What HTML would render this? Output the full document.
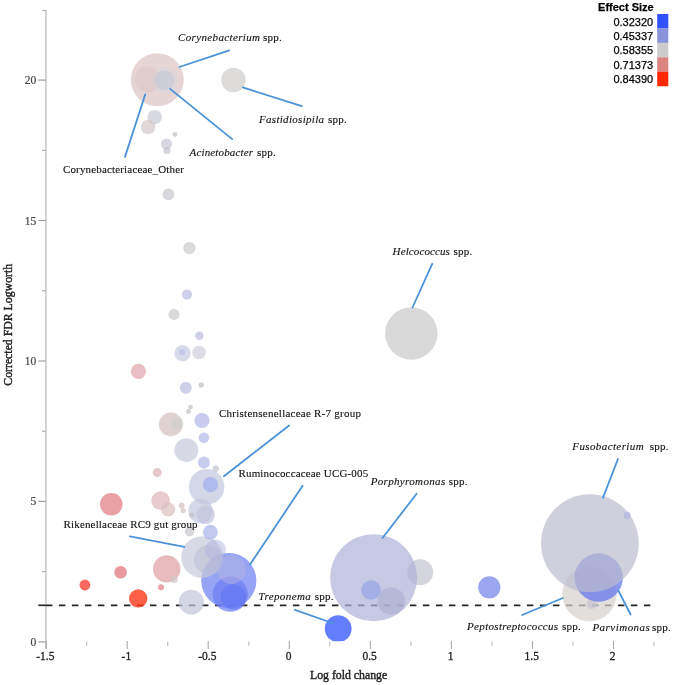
<!DOCTYPE html>
<html><head><meta charset="utf-8"><title>Volcano plot</title>
<style>
html,body{margin:0;padding:0;background:#fff;}
body{width:673px;height:685px;overflow:hidden;}
svg{display:block;filter:blur(0.4px);}
.lab text{font-family:"Liberation Serif",serif;font-size:11px;fill:#111;stroke:#111;stroke-width:0.12px;}
.tk{font-family:"Liberation Serif",serif;font-size:11.5px;fill:#222;stroke:#222;stroke-width:0.3px;}
.tky{fill:#444;stroke:#444;stroke-width:0.2px;}
.at{font-family:"Liberation Serif",serif;font-size:11.8px;fill:#222;stroke:#222;stroke-width:0.4px;}
.lt{font-family:"Liberation Sans",sans-serif;font-size:11px;font-weight:bold;fill:#000;stroke:#000;stroke-width:0.25px;}
.lv{font-family:"Liberation Sans",sans-serif;font-size:11px;fill:#000;stroke:#000;stroke-width:0.25px;}
</style></head>
<body>
<svg width="673" height="685" viewBox="0 0 673 685">
<defs><clipPath id="plot"><rect x="46" y="0" width="627" height="641.3"/></clipPath></defs>
<g id="axes">
<line x1="45.9" y1="10.5" x2="45.9" y2="648.9" stroke="#c8c8c8" stroke-width="1.6"/>
<line x1="42.2" y1="10.5" x2="46.5" y2="10.5" stroke="#b0b0b0" stroke-width="1.2"/>
<line x1="38.2" y1="641.9" x2="45.9" y2="641.9" stroke="#a0a0a0" stroke-width="1.2"/>
<text class="tk tky" x="36.3" y="645.9" text-anchor="end">0</text>
<line x1="38.2" y1="501.4" x2="45.9" y2="501.4" stroke="#a0a0a0" stroke-width="1.2"/>
<text class="tk tky" x="36.3" y="505.4" text-anchor="end">5</text>
<line x1="38.2" y1="361.0" x2="45.9" y2="361.0" stroke="#a0a0a0" stroke-width="1.2"/>
<text class="tk tky" x="36.3" y="365.0" text-anchor="end">10</text>
<line x1="38.2" y1="220.5" x2="45.9" y2="220.5" stroke="#a0a0a0" stroke-width="1.2"/>
<text class="tk tky" x="36.3" y="224.5" text-anchor="end">15</text>
<line x1="38.2" y1="80.1" x2="45.9" y2="80.1" stroke="#a0a0a0" stroke-width="1.2"/>
<text class="tk tky" x="36.3" y="84.1" text-anchor="end">20</text>
<line x1="42.0" y1="571.7" x2="45.9" y2="571.7" stroke="#a8a8a8" stroke-width="1.1"/>
<line x1="42.0" y1="431.2" x2="45.9" y2="431.2" stroke="#a8a8a8" stroke-width="1.1"/>
<line x1="42.0" y1="290.8" x2="45.9" y2="290.8" stroke="#a8a8a8" stroke-width="1.1"/>
<line x1="42.0" y1="150.3" x2="45.9" y2="150.3" stroke="#a8a8a8" stroke-width="1.1"/>
<line x1="46.2" y1="641" x2="46.2" y2="649" stroke="#a8a8a8" stroke-width="1.1"/>
<text class="tk" x="45.4" y="660.4" text-anchor="middle">-1.5</text>
<line x1="127.2" y1="641" x2="127.2" y2="649" stroke="#a8a8a8" stroke-width="1.1"/>
<text class="tk" x="126.4" y="660.4" text-anchor="middle">-1</text>
<line x1="208.2" y1="641" x2="208.2" y2="649" stroke="#a8a8a8" stroke-width="1.1"/>
<text class="tk" x="207.4" y="660.4" text-anchor="middle">-0.5</text>
<line x1="289.3" y1="641" x2="289.3" y2="649" stroke="#a8a8a8" stroke-width="1.1"/>
<text class="tk" x="288.5" y="660.4" text-anchor="middle">0</text>
<line x1="370.4" y1="641" x2="370.4" y2="649" stroke="#a8a8a8" stroke-width="1.1"/>
<text class="tk" x="369.6" y="660.4" text-anchor="middle">0.5</text>
<line x1="451.4" y1="641" x2="451.4" y2="649" stroke="#a8a8a8" stroke-width="1.1"/>
<text class="tk" x="450.6" y="660.4" text-anchor="middle">1</text>
<line x1="532.5" y1="641" x2="532.5" y2="649" stroke="#a8a8a8" stroke-width="1.1"/>
<text class="tk" x="531.7" y="660.4" text-anchor="middle">1.5</text>
<line x1="613.5" y1="641" x2="613.5" y2="649" stroke="#a8a8a8" stroke-width="1.1"/>
<text class="tk" x="612.7" y="660.4" text-anchor="middle">2</text>
<line x1="86.7" y1="641.4" x2="86.7" y2="645.8" stroke="#b8b8b8" stroke-width="1.1"/>
<line x1="167.7" y1="641.4" x2="167.7" y2="645.8" stroke="#b8b8b8" stroke-width="1.1"/>
<line x1="248.8" y1="641.4" x2="248.8" y2="645.8" stroke="#b8b8b8" stroke-width="1.1"/>
<line x1="329.8" y1="641.4" x2="329.8" y2="645.8" stroke="#b8b8b8" stroke-width="1.1"/>
<line x1="410.9" y1="641.4" x2="410.9" y2="645.8" stroke="#b8b8b8" stroke-width="1.1"/>
<line x1="491.9" y1="641.4" x2="491.9" y2="645.8" stroke="#b8b8b8" stroke-width="1.1"/>
<line x1="573.0" y1="641.4" x2="573.0" y2="645.8" stroke="#b8b8b8" stroke-width="1.1"/>
<line x1="654.0" y1="641.4" x2="654.0" y2="645.8" stroke="#b8b8b8" stroke-width="1.1"/>
</g>
<line x1="38.3" y1="605.3" x2="45.9" y2="605.3" stroke="#262626" stroke-width="1.65"/>
<line x1="45.9" y1="605.3" x2="650.3" y2="605.3" stroke="#262626" stroke-width="1.65" stroke-dasharray="6.5 6.5"/>
<g clip-path="url(#plot)">
<circle cx="589.5" cy="594.0" r="27.2" fill="rgb(214,208,205)" fill-opacity="0.7"/>
<circle cx="591.8" cy="604.0" r="5.0" fill="rgb(196,195,206)" fill-opacity="0.7"/>
<circle cx="598.7" cy="577.5" r="24.2" fill="rgb(91,112,234)" fill-opacity="0.7"/>
<circle cx="589.9" cy="543.2" r="48.9" fill="rgb(188,188,206)" fill-opacity="0.7"/>
<circle cx="627.2" cy="515.3" r="3.6" fill="rgb(175,179,227)" fill-opacity="0.7"/>
<circle cx="420.2" cy="572.3" r="13.0" fill="rgb(194,194,205)" fill-opacity="0.7"/>
<circle cx="373.6" cy="577.7" r="43.5" fill="rgb(174,176,216)" fill-opacity="0.7"/>
<circle cx="371.0" cy="590.0" r="9.8" fill="rgb(151,164,231)" fill-opacity="0.7"/>
<circle cx="391.3" cy="601.1" r="13.7" fill="rgb(175,177,211)" fill-opacity="0.7"/>
<circle cx="338.2" cy="628.7" r="13.4" fill="rgb(48,82,255)" fill-opacity="0.75"/>
<circle cx="489.3" cy="587.3" r="11.1" fill="rgb(111,129,234)" fill-opacity="0.7"/>
<circle cx="411.3" cy="333.5" r="26.2" fill="rgb(201,201,201)" fill-opacity="0.7"/>
<circle cx="228.8" cy="580.5" r="27.6" fill="rgb(105,126,241)" fill-opacity="0.7"/>
<circle cx="230.3" cy="594.2" r="17.6" fill="rgb(107,125,242)" fill-opacity="0.7"/>
<circle cx="233.3" cy="597.0" r="12.8" fill="rgb(100,118,242)" fill-opacity="0.7"/>
<circle cx="202.0" cy="557.0" r="20.8" fill="rgb(198,201,216)" fill-opacity="0.7"/>
<circle cx="208.4" cy="559.8" r="14.5" fill="rgb(185,187,216)" fill-opacity="0.5"/>
<circle cx="215.4" cy="550.0" r="10.5" fill="rgb(175,179,222)" fill-opacity="0.5"/>
<circle cx="231.5" cy="569.4" r="14.5" fill="rgb(180,179,225)" fill-opacity="0.5"/>
<circle cx="203.9" cy="462.4" r="6.0" fill="rgb(176,184,234)" fill-opacity="0.7"/>
<circle cx="215.8" cy="468.7" r="3.1" fill="rgb(194,194,202)" fill-opacity="0.7"/>
<circle cx="206.6" cy="486.8" r="17.8" fill="rgb(194,198,222)" fill-opacity="0.7"/>
<circle cx="210.4" cy="484.7" r="7.6" fill="rgb(159,172,236)" fill-opacity="0.7"/>
<circle cx="200.6" cy="511.0" r="12.3" fill="rgb(194,198,219)" fill-opacity="0.7"/>
<circle cx="205.7" cy="514.8" r="9.3" fill="rgb(195,196,224)" fill-opacity="0.7"/>
<circle cx="191.8" cy="515.0" r="2.6" fill="rgb(191,191,198)" fill-opacity="0.7"/>
<circle cx="210.4" cy="532.2" r="7.4" fill="rgb(169,179,234)" fill-opacity="0.7"/>
<circle cx="189.6" cy="531.6" r="4.8" fill="rgb(198,198,205)" fill-opacity="0.7"/>
<circle cx="170.8" cy="424.4" r="11.9" fill="rgb(212,191,191)" fill-opacity="0.7"/>
<circle cx="176.8" cy="423.8" r="6.4" fill="rgb(206,207,207)" fill-opacity="0.7"/>
<circle cx="202.0" cy="420.5" r="7.6" fill="rgb(176,184,234)" fill-opacity="0.7"/>
<circle cx="203.9" cy="437.8" r="5.2" fill="rgb(176,184,234)" fill-opacity="0.7"/>
<circle cx="186.3" cy="450.2" r="11.9" fill="rgb(198,202,216)" fill-opacity="0.7"/>
<circle cx="190.5" cy="407.1" r="2.3" fill="rgb(191,191,191)" fill-opacity="0.7"/>
<circle cx="188.5" cy="411.5" r="2.4" fill="rgb(191,191,191)" fill-opacity="0.7"/>
<circle cx="157.3" cy="472.6" r="4.5" fill="rgb(216,176,181)" fill-opacity="0.7"/>
<circle cx="185.8" cy="387.8" r="6.0" fill="rgb(184,188,226)" fill-opacity="0.7"/>
<circle cx="201.2" cy="385.0" r="2.7" fill="rgb(191,191,191)" fill-opacity="0.7"/>
<circle cx="138.4" cy="371.4" r="7.6" fill="rgb(224,162,168)" fill-opacity="0.7"/>
<circle cx="182.5" cy="353.2" r="8.2" fill="rgb(198,202,226)" fill-opacity="0.7"/>
<circle cx="182.1" cy="352.1" r="3.2" fill="rgb(186,192,235)" fill-opacity="0.7"/>
<circle cx="199.0" cy="352.5" r="6.8" fill="rgb(205,205,216)" fill-opacity="0.7"/>
<circle cx="199.4" cy="335.8" r="4.2" fill="rgb(184,188,222)" fill-opacity="0.7"/>
<circle cx="174.0" cy="314.4" r="5.6" fill="rgb(202,202,202)" fill-opacity="0.7"/>
<circle cx="187.0" cy="294.6" r="5.1" fill="rgb(184,188,222)" fill-opacity="0.7"/>
<circle cx="189.4" cy="248.1" r="6.2" fill="rgb(202,202,202)" fill-opacity="0.7"/>
<circle cx="168.4" cy="194.3" r="5.9" fill="rgb(198,198,208)" fill-opacity="0.7"/>
<circle cx="166.5" cy="144.0" r="5.6" fill="rgb(198,198,212)" fill-opacity="0.7"/>
<circle cx="166.9" cy="150.5" r="3.6" fill="rgb(194,194,208)" fill-opacity="0.7"/>
<circle cx="174.9" cy="134.5" r="2.4" fill="rgb(194,194,194)" fill-opacity="0.7"/>
<circle cx="154.7" cy="117.2" r="7.3" fill="rgb(201,201,214)" fill-opacity="0.7"/>
<circle cx="148.1" cy="127.0" r="7.3" fill="rgb(211,199,199)" fill-opacity="0.7"/>
<circle cx="157.3" cy="79.7" r="26.5" fill="rgb(219,195,195)" fill-opacity="0.7"/>
<circle cx="147.7" cy="79.4" r="12.8" fill="rgb(219,199,199)" fill-opacity="0.7"/>
<circle cx="164.5" cy="80.5" r="13.0" fill="rgb(210,216,220)" fill-opacity="0.4"/>
<circle cx="164.5" cy="80.3" r="10.0" fill="rgb(199,203,217)" fill-opacity="0.7"/>
<circle cx="233.4" cy="80.0" r="12.2" fill="rgb(208,205,202)" fill-opacity="0.7"/>
<circle cx="111.3" cy="504.2" r="11.3" fill="rgb(222,122,129)" fill-opacity="0.7"/>
<circle cx="160.6" cy="500.6" r="9.3" fill="rgb(222,181,185)" fill-opacity="0.7"/>
<circle cx="168.2" cy="509.4" r="7.1" fill="rgb(218,192,190)" fill-opacity="0.7"/>
<circle cx="181.7" cy="505.6" r="3.0" fill="rgb(212,191,191)" fill-opacity="0.7"/>
<circle cx="183.2" cy="510.6" r="2.6" fill="rgb(212,191,191)" fill-opacity="0.7"/>
<circle cx="166.7" cy="568.9" r="13.7" fill="rgb(222,158,164)" fill-opacity="0.7"/>
<circle cx="174.3" cy="579.6" r="3.5" fill="rgb(208,198,197)" fill-opacity="0.7"/>
<circle cx="161.0" cy="587.2" r="3.0" fill="rgb(222,126,134)" fill-opacity="0.7"/>
<circle cx="120.6" cy="572.2" r="6.3" fill="rgb(224,108,119)" fill-opacity="0.7"/>
<circle cx="84.9" cy="585.0" r="5.4" fill="rgb(241,41,26)" fill-opacity="0.7"/>
<circle cx="138.2" cy="598.4" r="9.2" fill="rgb(255,56,26)" fill-opacity="0.8"/>
<circle cx="191.3" cy="602.2" r="12.5" fill="rgb(194,196,216)" fill-opacity="0.7"/>
</g>
<g stroke="#4b92d8" stroke-width="1.8" stroke-linecap="round">
<line x1="179.4" y1="67.0" x2="229.3" y2="50.4"/>
<line x1="145.3" y1="94.3" x2="125.0" y2="156.9"/>
<line x1="170.1" y1="88.9" x2="232.2" y2="139.1"/>
<line x1="242.8" y1="87.4" x2="301.8" y2="106.2"/>
<line x1="412.5" y1="307.5" x2="432.2" y2="263.8"/>
<line x1="223.9" y1="476.2" x2="289.1" y2="425.5"/>
<line x1="250.0" y1="564.5" x2="302.6" y2="485.8"/>
<line x1="184.3" y1="546.8" x2="129.9" y2="536.3"/>
<line x1="382.5" y1="538.0" x2="416.6" y2="493.8"/>
<line x1="333.8" y1="623.5" x2="294.8" y2="609.9"/>
<line x1="603.0" y1="497.7" x2="618.0" y2="459.0"/>
<line x1="562.9" y1="598.0" x2="522.1" y2="615.0"/>
<line x1="618.5" y1="590.8" x2="630.6" y2="614.5"/>
</g>
<g class="lab">
<text x="178.00" y="40.5" letter-spacing="0.357" font-style="italic">Corynebacterium</text>
<text x="263.10" y="40.5" letter-spacing="0.250">spp.</text>
<text x="259.00" y="122.9" letter-spacing="0.300" font-style="italic">Fastidiosipila</text>
<text x="328.10" y="122.9" letter-spacing="0.250">spp.</text>
<text x="189.60" y="155.8" letter-spacing="0.142" font-style="italic">Acinetobacter</text>
<text x="257.00" y="155.8" letter-spacing="0.250">spp.</text>
<text x="392.60" y="255.2" letter-spacing="0.110" font-style="italic">Helcococcus</text>
<text x="453.60" y="255.2" letter-spacing="0.250">spp.</text>
<text x="572.30" y="450.1" letter-spacing="0.392" font-style="italic">Fusobacterium</text>
<text x="649.70" y="450.1" letter-spacing="0.250">spp.</text>
<text x="370.70" y="485.4" letter-spacing="0.333" font-style="italic">Porphyromonas</text>
<text x="448.80" y="485.4" letter-spacing="0.250">spp.</text>
<text x="258.50" y="599.6" letter-spacing="0.400" font-style="italic">Treponema</text>
<text x="314.80" y="599.6" letter-spacing="0.250">spp.</text>
<text x="467.10" y="630.2" letter-spacing="0.312" font-style="italic">Peptostreptococcus</text>
<text x="561.90" y="630.2" letter-spacing="0.250">spp.</text>
<text x="592.40" y="631.0" letter-spacing="0.478" font-style="italic">Parvimonas</text>
<text x="652.10" y="631.0" letter-spacing="0.250">spp.</text>
<text x="62.90" y="172.7" letter-spacing="0.165">Corynebacteriaceae_Other</text>
<text x="219.00" y="416.9" letter-spacing="0.250">Christensenellaceae R-7 group</text>
<text x="238.50" y="477.3" letter-spacing="0.159">Ruminococcaceae UCG-005</text>
<text x="63.50" y="528.4" letter-spacing="0.165">Rikenellaceae RC9 gut group</text>
</g>
<text class="at" x="348.6" y="678.9" text-anchor="middle">Log fold change</text>
<text class="at" transform="translate(12.2,324.8) rotate(-90)" text-anchor="middle">Corrected FDR Logworth</text>
<text x="653.7" y="11.1" text-anchor="end" class="lt">Effect Size</text>
<rect x="657.2" y="14.00" width="11.1" height="14.5" fill="#3252ff"/>
<text x="653.2" y="25.5" text-anchor="end" class="lv">0.32320</text>
<rect x="657.2" y="28.44" width="11.1" height="14.5" fill="#8a94dc"/>
<text x="653.2" y="39.9" text-anchor="end" class="lv">0.45337</text>
<rect x="657.2" y="42.88" width="11.1" height="14.5" fill="#cccccc"/>
<text x="653.2" y="54.4" text-anchor="end" class="lv">0.58355</text>
<rect x="657.2" y="57.32" width="11.1" height="14.5" fill="#dc8480"/>
<text x="653.2" y="68.8" text-anchor="end" class="lv">0.71373</text>
<rect x="657.2" y="71.76" width="11.1" height="14.5" fill="#ff2800"/>
<text x="653.2" y="83.3" text-anchor="end" class="lv">0.84390</text>
</svg>
</body></html>
